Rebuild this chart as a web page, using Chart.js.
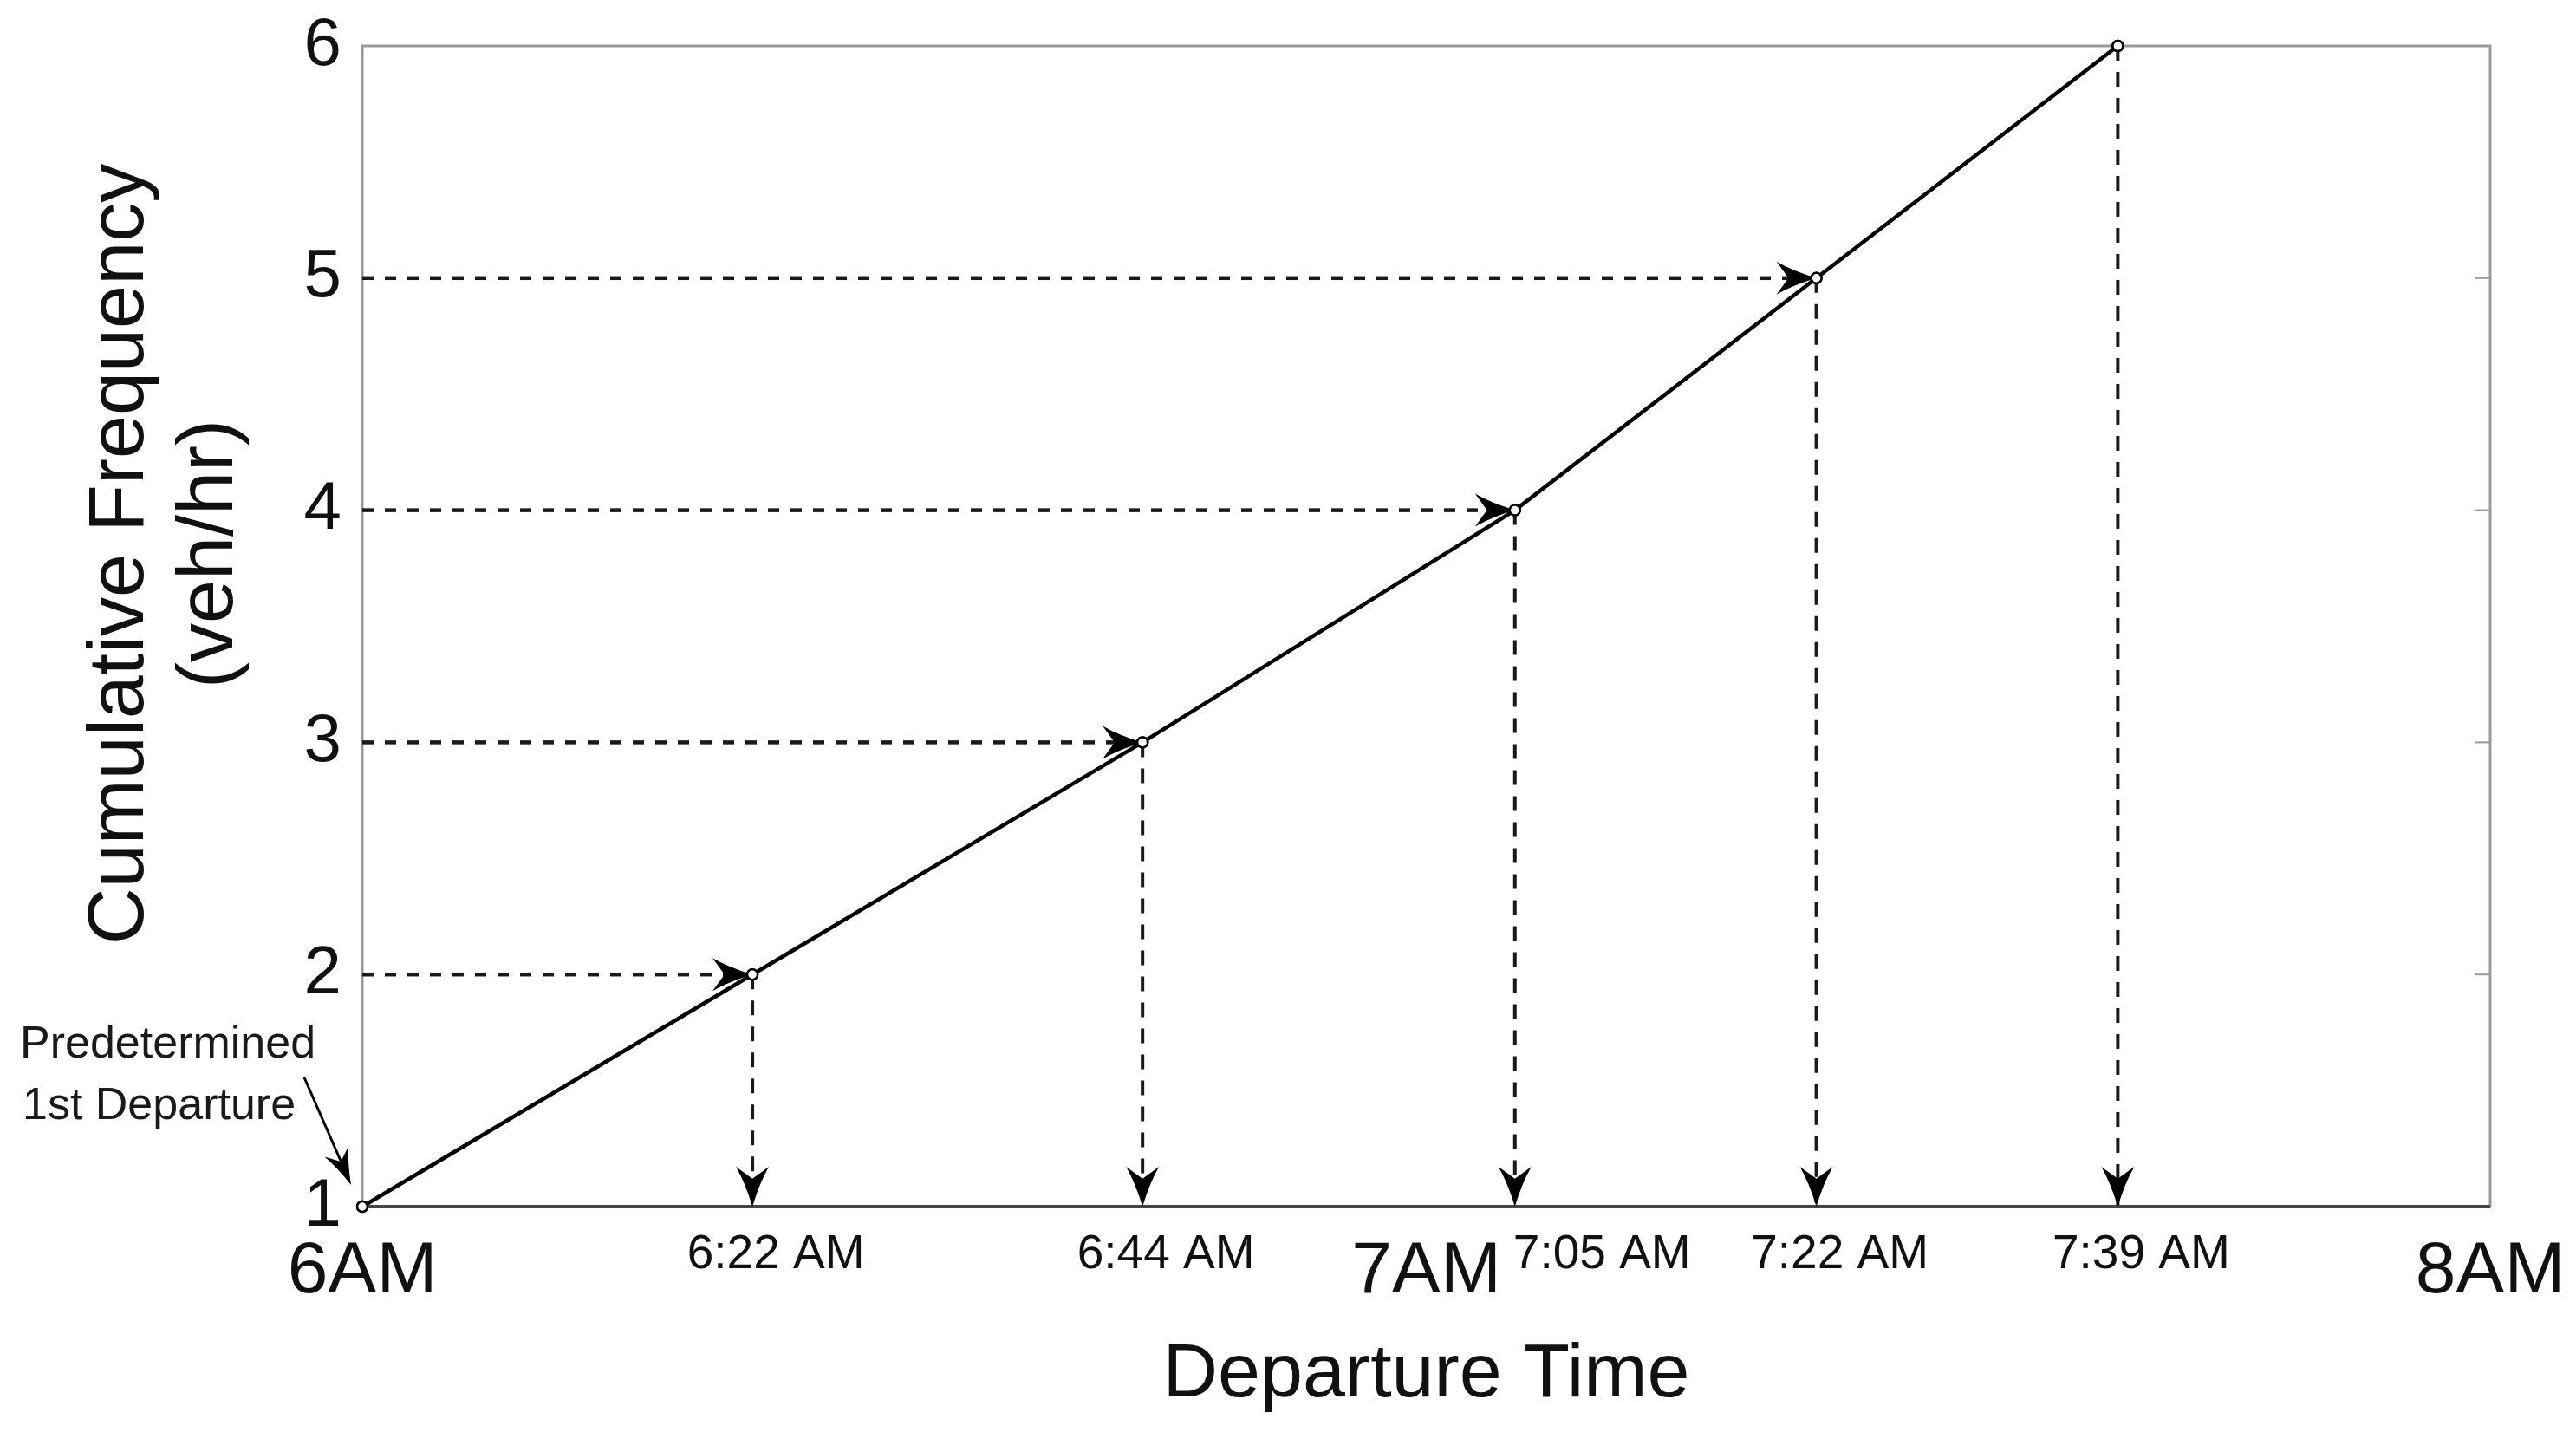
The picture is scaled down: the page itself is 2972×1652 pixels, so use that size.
<!DOCTYPE html>
<html><head><meta charset="utf-8">
<script src="https://cdn.jsdelivr.net/npm/chart.js@4.4.1/dist/chart.umd.min.js"></script>
<style>html,body{margin:0;padding:0;background:#fff;}#wrap{width:2972px;height:1652px;position:relative;}</style>
</head><body><div id="wrap"><canvas id="c"></canvas></div>
<script>
const departureMinutes = [0, 22, 44, 65, 82, 99];
const cumulativeFrequency = [1, 2, 3, 4, 5, 6];
const departureLabels = ['6AM', '6:22 AM', '6:44 AM', '7:05 AM', '7:22 AM', '7:39 AM'];
const xTickValues = [0, 60, 120];
const xTickLabels = ['6AM', '7AM', '8AM'];
const yTickValues = [1, 2, 3, 4, 5, 6];
const xTitle = 'Departure Time';
const yTitleLines = ['Cumulative Frequency', '(veh/hr)'];
const annotationLines = ['Predetermined', '1st Departure'];

const FONT = "'Liberation Sans', Arial, sans-serif";
const INK = '#111';

const mainPoints = departureMinutes.map((m, i) => ({x: m, y: cumulativeFrequency[i]}));
const datasets = [{
  label: 'main', data: mainPoints, borderColor: '#000', borderWidth: 4.5,
  pointRadius: 6, pointBackgroundColor: '#fff', pointBorderColor: '#000', pointBorderWidth: 2.5,
  showLine: true, clip: false, tension: 0
}];
// horizontal guides (y axis -> point), skip first (origin) and last (top)
for (let i = 1; i < departureMinutes.length - 1; i++) {
  datasets.push({label: 'h' + i, guide: true,
    data: [{x: departureMinutes[0], y: cumulativeFrequency[i]}, {x: departureMinutes[i], y: cumulativeFrequency[i]}],
    borderColor: '#1a1a1a', borderWidth: 4.5, borderDash: [13, 13], pointRadius: 0, showLine: true, clip: false});
}
// vertical guides (point -> x axis)
for (let i = 1; i < departureMinutes.length; i++) {
  datasets.push({label: 'v' + i, guide: true,
    data: [{x: departureMinutes[i], y: cumulativeFrequency[i]}, {x: departureMinutes[i], y: cumulativeFrequency[0]}],
    borderColor: '#1a1a1a', borderWidth: 4, borderDash: [17, 13], pointRadius: 0, showLine: true, clip: false});
}

function arrowHead(ctx, tipX, tipY, fromX, fromY, len, wid) {
  const ang = Math.atan2(tipY - fromY, tipX - fromX);
  ctx.save();
  ctx.translate(tipX, tipY); ctx.rotate(ang);
  ctx.beginPath();
  ctx.moveTo(0, 0);
  ctx.quadraticCurveTo(-len * 0.6, -wid * 0.22, -len, -wid / 2);
  ctx.lineTo(-len * 0.7, 0);
  ctx.lineTo(-len, wid / 2);
  ctx.quadraticCurveTo(-len * 0.6, wid * 0.22, 0, 0);
  ctx.closePath();
  ctx.fillStyle = '#000';
  ctx.fill();
  ctx.restore();
}

const decor = {
  id: 'decor',
  beforeDatasetsDraw(chart) {
    const {ctx, chartArea: a, scales: {y}} = chart;
    ctx.save();
    ctx.strokeStyle = '#9a9a9a'; ctx.lineWidth = 3;
    ctx.strokeRect(a.left, a.top, a.right - a.left, a.bottom - a.top);
    ctx.strokeStyle = '#9a9a9a'; ctx.lineWidth = 2;
    yTickValues.forEach(v => {
      if (v === yTickValues[0] || v === yTickValues[yTickValues.length - 1]) return;
      const py = y.getPixelForValue(v);
      ctx.beginPath(); ctx.moveTo(a.right - 18, py); ctx.lineTo(a.right, py); ctx.stroke();
    });
    ctx.strokeStyle = '#454545'; ctx.lineWidth = 4;
    ctx.beginPath(); ctx.moveTo(a.left, a.bottom); ctx.lineTo(a.right, a.bottom); ctx.stroke();
    ctx.restore();
  },
  afterDatasetsDraw(chart) {
    const {ctx} = chart;
    chart.data.datasets.forEach((ds, di) => {
      if (!ds.guide) return;
      const pts = chart.getDatasetMeta(di).data;
      arrowHead(ctx, pts[1].x, pts[1].y, pts[0].x, pts[0].y, 46, 38);
    });
    const meta = chart.getDatasetMeta(0);
    meta.data.forEach(p => {
      ctx.save();
      ctx.beginPath(); ctx.arc(p.x, p.y, 6, 0, Math.PI * 2);
      ctx.fillStyle = '#fff'; ctx.fill();
      ctx.lineWidth = 2.5; ctx.strokeStyle = '#000'; ctx.stroke();
      ctx.restore();
    });
  },
  afterDraw(chart) {
    const {ctx, chartArea: a, scales: {x, y}} = chart;
    ctx.save();
    ctx.fillStyle = INK;
    ctx.font = `90px ${FONT}`;
    ctx.textAlign = 'center'; ctx.textBaseline = 'middle';
    const yMid = a.top + 586;
    [[yTitleLines[0], a.left - 278], [yTitleLines[1], a.left - 175]].forEach(([t, px]) => {
      ctx.save(); ctx.translate(px, yMid); ctx.rotate(-Math.PI / 2); ctx.fillText(t, 0, 0); ctx.restore();
    });
    ctx.font = `84px ${FONT}`;
    const majors = xTickValues.map((v, i) => {
      const c = x.getPixelForValue(v), w = ctx.measureText(xTickLabels[i]).width;
      return {l: c - w / 2, r: c + w / 2};
    });
    ctx.font = `55px ${FONT}`;
    ctx.textAlign = 'left'; ctx.textBaseline = 'alphabetic';
    for (let i = 1; i < departureMinutes.length; i++) {
      const w = ctx.measureText(departureLabels[i]).width;
      let left = x.getPixelForValue(departureMinutes[i]) + 27 - w / 2;
      majors.forEach(m => { if (left < m.r + 12 && left + w > m.l) left = m.r + 14; });
      ctx.fillText(departureLabels[i], left, a.bottom + 71);
    }
    const ox = x.getPixelForValue(departureMinutes[0]), oy = y.getPixelForValue(cumulativeFrequency[0]);
    ctx.font = `52px ${FONT}`;
    ctx.fillStyle = '#1a1a1a';
    ctx.fillText(annotationLines[0], 23, oy - 172);
    ctx.fillText(annotationLines[1], 26, oy - 101);
    const tipX = ox - 13, tipY = oy - 25, sx = tipX - 54, sy = tipY - 124;
    ctx.strokeStyle = '#000'; ctx.lineWidth = 3;
    ctx.beginPath(); ctx.moveTo(sx, sy); ctx.lineTo(tipX - 5, tipY - 12); ctx.stroke();
    arrowHead(ctx, tipX, tipY, sx, sy, 42, 30);
    ctx.restore();
  }
};

Chart.defaults.font.family = FONT;
Chart.defaults.color = INK;

new Chart(document.getElementById('c'), {
  type: 'line',
  data: {datasets},
  options: {
    responsive: true, maintainAspectRatio: false, animation: false, devicePixelRatio: 1,
    layout: {padding: {left: 0, top: 53, right: 99, bottom: 0}},
    plugins: {legend: {display: false}, tooltip: {enabled: false}},
    scales: {
      x: {
        type: 'linear', min: 0, max: 120,
        grid: {display: false, drawTicks: false}, border: {display: false},
        afterBuildTicks: s => { s.ticks = xTickValues.map(v => ({value: v})); },
        afterFit: s => { s.height = 260; s.paddingLeft = 0; s.paddingRight = 0; },
        ticks: {font: {size: 84}, color: INK, padding: 25, maxRotation: 0, autoSkip: false,
          callback: v => xTickLabels[xTickValues.indexOf(v)]},
        title: {display: true, text: xTitle, font: {size: 88}, color: INK, padding: {top: 0, bottom: 12}}
      },
      y: {
        type: 'linear', min: 1, max: 6,
        grid: {display: false, drawTicks: false}, border: {display: false},
        afterBuildTicks: s => { s.ticks = yTickValues.map(v => ({value: v})); },
        afterFit: s => { s.width = 418; s.paddingTop = 0; s.paddingBottom = 0; },
        ticks: {font: {size: 78}, color: INK, padding: 24}
      }
    }
  },
  plugins: [decor]
});
</script></body></html>
